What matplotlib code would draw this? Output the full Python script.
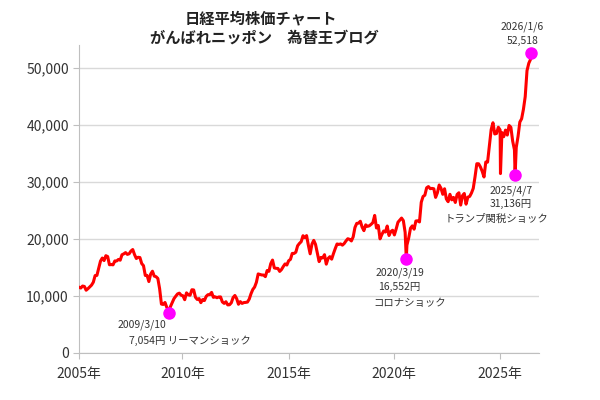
import numpy as np
import matplotlib
matplotlib.use('Agg')
import matplotlib.pyplot as plt

plt.rcParams['font.family'] = ['Noto Sans CJK JP', 'DejaVu Sans']

# Nikkei 225, month-end closes (2005/01 .. 2025/12)
monthly = {
    2005: [11388, 11740, 11668, 11008, 11276, 11584, 11899, 12413, 13574, 13606, 14872, 16111],
    2006: [16650, 16205, 17060, 16906, 15467, 15505, 15457, 16140, 16128, 16399, 16274, 17226],
    2007: [17383, 17604, 17288, 17400, 17876, 18138, 17248, 16569, 16786, 16737, 15681, 15308],
    2008: [13592, 13604, 12526, 13850, 14339, 13481, 13377, 13073, 11260, 8577, 8512, 8860],
    2009: [7994, 7568, 8110, 8828, 9523, 9958, 10357, 10493, 10133, 10035, 9346, 10546],
    2010: [10198, 10126, 11090, 11057, 9769, 9383, 9537, 8824, 9369, 9202, 9937, 10229],
    2011: [10237, 10624, 9755, 9849, 9693, 9816, 9833, 8955, 8700, 8988, 8434, 8455],
    2012: [8803, 9723, 10084, 9521, 8543, 9007, 8695, 8840, 8870, 8928, 9446, 10395],
    2013: [11139, 11559, 12398, 13861, 13775, 13677, 13668, 13389, 14456, 14328, 15662, 16291],
    2014: [14915, 14841, 14828, 14304, 14632, 15162, 15621, 15425, 16174, 16414, 17460, 17451],
    2015: [17674, 18798, 19207, 19520, 20563, 20236, 20585, 18890, 17388, 19083, 19747, 19034],
    2016: [17518, 16027, 16759, 16666, 17235, 15576, 16569, 16887, 16450, 17425, 18308, 19114],
    2017: [19041, 19119, 18909, 19197, 19651, 20033, 19925, 19646, 20356, 22012, 22725, 22765],
    2018: [23098, 22068, 21454, 22468, 22202, 22305, 22554, 22865, 24120, 21920, 22351, 20015],
    2019: [20773, 21385, 21206, 22259, 20601, 21276, 21521, 20704, 21756, 22927, 23294, 23657],
    2020: [23205, 21143, 18917, 20194, 21878, 22288, 21710, 23140, 23185, 22977, 26434, 27444],
    2021: [27663, 28966, 29179, 28813, 28860, 28792, 27284, 28090, 29453, 28893, 27822, 28792],
    2022: [27002, 26527, 27821, 26848, 27280, 26393, 27802, 28092, 25937, 27587, 27969, 26095],
    2023: [27327, 27446, 28041, 28856, 30888, 33189, 33172, 32619, 31858, 30859, 33487, 33464],
    2024: [36287, 39166, 40369, 38406, 38488, 39583, 39102, 38648, 37920, 39081, 38208, 39895],
    2025: [39572, 37156, 35618, 36045, 37965, 40487, 41069, 42718, 44933, 49500, 50800, 51500],
}
# intramonth extremes and end point (fractional year, value)
extra_x = [2005.0, 2009.19, 2020.21, 2024.59, 2025.27, 2026.02]
extra_y = [11517, 7054, 16552, 31458, 31136, 52518]

# annotated points
mark_x = [2009.19, 2020.21, 2025.27, 2026.02]
mark_y = [7054, 16552, 31136, 52518]

yticks = [0, 10000, 20000, 30000, 40000, 50000]
xtick_labels = ['2005年', '2010年', '2015年', '2020年', '2025年']
xtick_pos = [2005.0, 2009.8, 2014.75, 2019.65, 2024.55]

# build series
xs, ys = [], []
for yr, vals in monthly.items():
    for m, v in enumerate(vals):
        xs.append(yr + (m + 1) / 12.0 - 0.01)
        ys.append(v)
xs = np.array(xs + extra_x)
ys = np.array(ys + extra_y)
order = np.argsort(xs)
xs, ys = xs[order], ys[order]

fig = plt.figure(figsize=(6, 4), dpi=100)
ax = fig.add_axes([0.132, 0.1175, 0.767, 0.77])

ax.plot(xs, ys, color='#ff0000', lw=2.2, zorder=3)
ax.plot(mark_x, mark_y, 'o', color='#ff00ff', ms=8, zorder=4, clip_on=False)

ax.set_xlim(2005.0, 2026.4)
ax.set_ylim(0, 54000)
ax.set_yticks(yticks)
ax.set_yticklabels(['{:,}'.format(v) for v in yticks])
ax.set_xticks(xtick_pos)
ax.set_xticklabels(xtick_labels)
ax.grid(axis='y', color='#d9d9d9', lw=1)
ax.set_axisbelow(True)
for s in ['top', 'right']:
    ax.spines[s].set_visible(False)
for s in ['left', 'bottom']:
    ax.spines[s].set_color('#bfbfbf')
ax.tick_params(colors='#bfbfbf', labelcolor='#333333', labelsize=10, length=4)
ax.tick_params(axis='x', pad=6)

# title
fig.text(0.435, 0.955, '日経平均株価チャート', ha='center', va='center',
         fontsize=11, fontweight='bold', color='#222222')
fig.text(0.44, 0.905, 'がんばれニッポン　為替王ブログ', ha='center', va='center',
         fontsize=11, fontweight='bold', color='#222222')

# annotations
tk = dict(fontsize=7.5, color='#333333', va='center')
ax.text(2006.8, 4900, '2009/3/10', ha='left', **tk)
ax.text(2007.3, 2200, '7,054円 リーマンショック', ha='left', **tk)
ax.text(2019.9, 14100, '2020/3/19', ha='center', **tk)
ax.text(2019.9, 11500, '16,552円', ha='center', **tk)
ax.text(2018.7, 8800, 'コロナショック', ha='left', **tk)
ax.text(2025.1, 28500, '2025/4/7', ha='center', **tk)
ax.text(2025.05, 26100, '31,136円', ha='center', **tk)
ax.text(2024.4, 23500, 'トランプ関税ショック', ha='center', **tk)
ax.text(2025.6, 57200, '2026/1/6', ha='center', clip_on=False, **tk)
ax.text(2025.6, 54700, '52,518', ha='center', clip_on=False, **tk)

fig.savefig('out.png', dpi=100)
